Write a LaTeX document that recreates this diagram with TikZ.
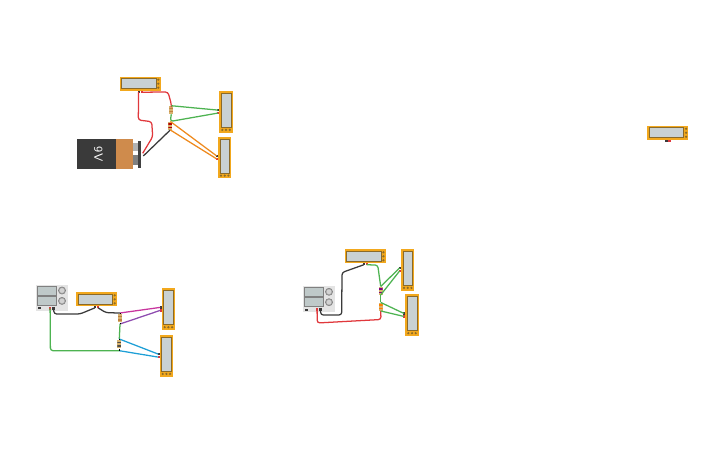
\documentclass[tikz,border=0pt]{standalone}
\usepackage{color}
\usetikzlibrary{positioning}
\definecolor{meterorange}{HTML}{F2A81D}
\definecolor{meterrim}{HTML}{8A6A2A}
\definecolor{screengray}{HTML}{C9D1D3}
\definecolor{supplygray}{HTML}{E4E4E4}
\definecolor{supplyscreen}{HTML}{BFC9C9}
\definecolor{restan}{HTML}{D8B26E}
\definecolor{batcopper}{HTML}{CF8B4C}
\definecolor{wirered}{HTML}{E0383C}
\definecolor{wiregreen}{HTML}{4DB351}
\definecolor{wireorange}{HTML}{EE8A1E}
\definecolor{wireblack}{HTML}{3A3A3A}
\definecolor{wiremagenta}{HTML}{C8359E}
\definecolor{wirepurple}{HTML}{8E4CB0}
\definecolor{wireblue}{HTML}{1E9FD6}
\tikzset
{
    wire/.style     = {line width=0.95pt, rounded corners=2pt, line join=round},
    resistor/.style = {fill=restan, minimum width=3pt, minimum height=6pt, inner sep=0pt, path picture={
        \fill[#1] ([yshift=-1.2pt]path picture bounding box.north west) rectangle ([yshift=-2.2pt]path picture bounding box.north east);
        \fill[#1] ([yshift=1.2pt]path picture bounding box.south west) rectangle ([yshift=2.2pt]path picture bounding box.south east);}},
    hmeter/.pic = {
        \fill[meterorange] (0,0) rectangle (41,14);
        \fill[screengray, draw=meterrim, line width=0.5pt] (2.2,2) rectangle (36.5,11.8);
        \foreach \ypos in {3,7,11} {\fill[meterrim] (38.8,\ypos) circle (1.2);}
        \fill[wireblack] (18,14) rectangle (20.2,16);
        \fill[wirered] (21,14) rectangle (23.2,16);
        \coordinate (-a) at (19.1,15.5);
        \coordinate (-b) at (22.1,15.5);
    },
    vmeter/.pic = {
        \fill[meterorange] (0,0) rectangle (13.4,41.6);
        \fill[screengray, draw=meterrim, line width=0.5pt] (2,2.2) rectangle (11.6,36.4);
        \foreach \xpos in {3,6.7,10.4} {\fill[meterrim] (\xpos,38.9) circle (1.2);}
        \fill[wireblack] (-2,18) rectangle (0,20.2);
        \fill[wirered] (-2,21) rectangle (0,23.2);
        \coordinate (-a) at (-1.5,19.1);
        \coordinate (-b) at (-1.5,22.1);
    },
    supply/.pic = {
        \fill[supplygray] (0,0) rectangle (32.2,26);
        \fill[supplyscreen, draw=gray, line width=0.4pt] (1.4,1.4) rectangle (20.4,10.2);
        \fill[supplyscreen, draw=gray, line width=0.4pt] (1.4,11.4) rectangle (20.4,20.4);
        \foreach \ypos in {5.8,16.2} {\fill[gray!70, draw=gray] (26,\ypos) circle (3.6); \fill[gray!35] (26,\ypos) circle (2.4);}
        \fill[wireblack] (2.2,22.6) rectangle (5.4,24.6);
        \fill[wirered] (13,22.4) rectangle (15.2,24.8);
        \fill[wireblack] (16.4,22.4) rectangle (18.6,24.8);
        \coordinate (-a) at (14.1,23.6);
        \coordinate (-b) at (17.5,23.6);
    }
}
\begin{document}
\begin{tikzpicture}[x=0.75pt, y=-0.75pt]
    \useasboundingbox (0,0) rectangle (725,453);

    \pic (meterA) at (119.5,76.7) {hmeter};
    \pic (meterB) at (219.3,91) {vmeter};
    \pic (meterC) at (218,136.7) {vmeter};
    \fill[wireblack] (76.7,139) rectangle (115.7,169.3);
    \fill[batcopper] (115.7,139) rectangle (132.7,169.3);
    \fill[gray!60] (132.7,142.7) rectangle (138.3,151);
    \fill[gray] (132.7,155) rectangle (138.3,165);
    \fill[black!75] (137.7,140.7) rectangle (140.7,168.3);
    \node[white, rotate=-90, font=\sffamily\small] (batLabel) at (98.5,154.2) {9V};
    \coordinate (batPlus) at (142.7,153.3);
    \coordinate (batMinus) at (143.3,156);
    \node[resistor=brown] (resA) at (171.3,110) {};
    \node[resistor=red!70!black] (resB) at (170.3,125.7) {};
    \draw[wire, wirered] (meterA-b) -- (168,92) -- (171.3,104) -- (resA.north);
    \draw[wire, wirered] (meterA-a) -- (138.3,120) -- (151.7,121.7) -- (152.7,136.7) -- (batPlus);
    \draw[wire, wiregreen] (resA.north) -- (meterB-a);
    \draw[wire, wiregreen] (resA.south) -- (resB.north) -- (meterB-b);
    \draw[wire, wireblack] (batMinus) -- (resB.south);
    \draw[wire, wireorange] (resB.north) -- (meterC-a);
    \draw[wire, wireorange] (resB.south) -- (meterC-b);

    \pic (meterD) at (75.9,292.3) {hmeter};
    \pic (meterE) at (161.7,288.3) {vmeter};
    \pic (meterF) at (159.7,335) {vmeter};
    \pic (supplyA) at (36,284.7) {supply};
    \node[resistor=brown] (resC) at (120,318.3) {};
    \node[resistor=black!70] (resD) at (119.3,344.3) {};
    \coordinate (jointA) at (120,313);
    \coordinate (jointB) at (120,324);
    \coordinate (jointC) at (119.3,339);
    \coordinate (jointD) at (119.3,350.7);
    \draw[wire, wireblack] (supplyA-b) -- (54,314) -- (80,314) -- (meterD-a);
    \draw[wire, wireblack] (meterD-b) -- (106,312.7) -- (jointA);
    \draw[wire, wiremagenta] (jointA) -- (meterE-a);
    \draw[wire, wirepurple] (jointB) -- (meterE-b);
    \draw[wire, wiregreen] (supplyA-a) -- (50.4,350.7) -- (jointD);
    \draw[wire, wiregreen] (jointB) -- (jointC);
    \draw[wire, wireblue] (jointC) -- (meterF-a);
    \draw[wire, wireblue] (jointD) -- (meterF-b);
    \draw[line width=0.5pt] (jointA) -- (resC.north) (resC.south) -- (jointB) (jointC) -- (resD.north) (resD.south) -- (jointD);

    \pic (meterG) at (344.6,249.3) {hmeter};
    \pic (meterH) at (401,249) {vmeter};
    \pic (meterI) at (405.3,294.3) {vmeter};
    \pic (supplyB) at (303,286) {supply};
    \node[resistor=violet] (resE) at (380.7,290.7) {};
    \node[resistor=orange] (resF) at (380.7,306.7) {};
    \draw[wire, wireblack] (meterG-a) -- (342,272.5) -- (341.7,315) -- (320.7,315) -- (supplyB-b);
    \draw[wire, wirered] (supplyB-a) -- (317.2,323) -- (381,319.5) -- (resF.south);
    \draw[wire, wiregreen] (meterG-b) -- (377.7,265) -- (resE.north);
    \draw[wire, wiregreen] (resE.north) -- (meterH-a);
    \draw[wire, wiregreen] (resE.south) -- (meterH-b);
    \draw[wire, wiregreen] (resE.south) -- (resF.north);
    \draw[wire, wiregreen] (resF.north) -- (meterI-a);
    \draw[wire, wiregreen] (resF.south) -- (meterI-b);

    \pic (meterJ) at (647.3,125.7) {hmeter};
\end{tikzpicture}
\end{document}
